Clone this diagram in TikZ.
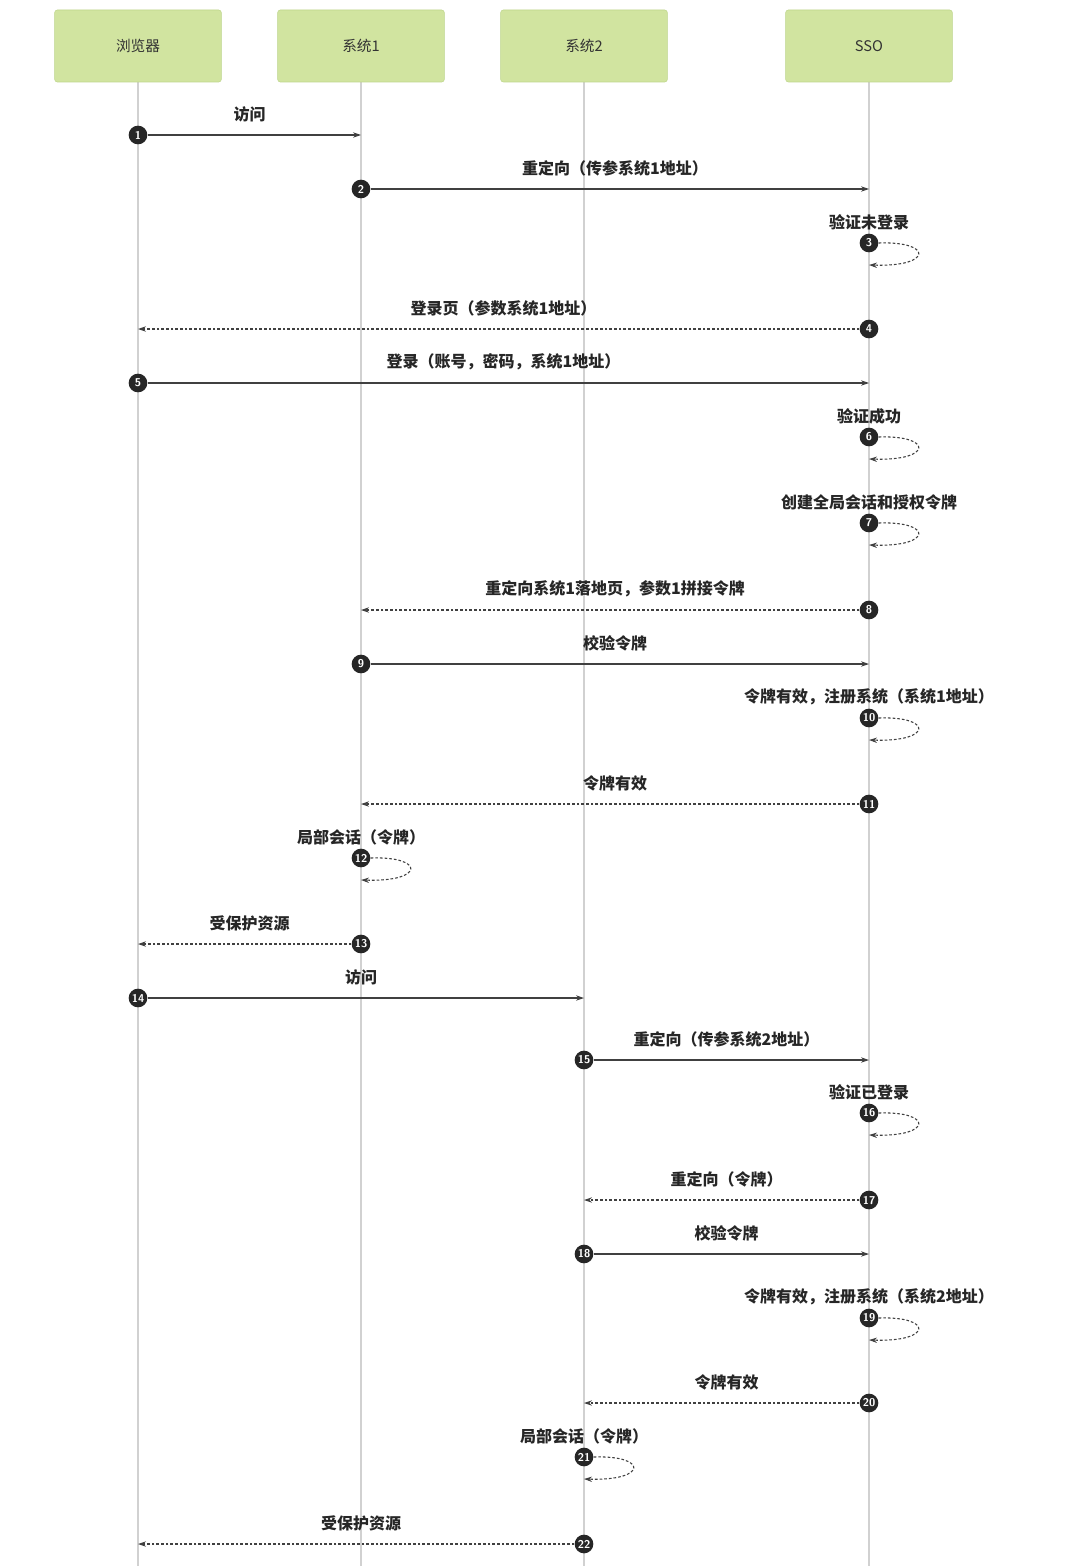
\documentclass[tikz,border=0pt]{standalone}
\usepackage{fontspec}
\setmainfont{Liberation Sans}
\newfontfamily\cjk{Noto Sans CJK SC}
\usetikzlibrary{arrows.meta}
\definecolor{boxfill}{RGB}{209,228,160}
\definecolor{boxline}{RGB}{190,214,140}
\begin{document}
\begin{tikzpicture}[x=0.75pt,y=-0.75pt,
  actor/.style={draw=boxline,fill=boxfill,rounded corners=2pt,minimum width=125pt,minimum height=54pt,font=\cjk\fontsize{11}{13}\selectfont,text=black!80},
  life/.style={draw=black!18,line width=0.8pt},
  num/.style={circle,fill=black!85,text=white,inner sep=0pt,minimum size=14pt,font=\sffamily\bfseries\fontsize{8.5}{8.5}\selectfont},
  msg/.style={draw=black!75,line width=0.8pt,-{Stealth[length=6pt,width=4pt]}},
  ret/.style={msg,dashed,dash pattern=on 2pt off 1.5pt},
  lbl/.style={font=\cjk\bfseries\fontsize{12}{14}\selectfont,text=black!85}]
\useasboundingbox (0,0) rectangle (1064,1566);
\fill[white] (0,0) rectangle (1064,1566);
\foreach \n/\x/\t in {a/138/浏览器,b/361/系统1,c/584/系统2,d/869/SSO}{
  \draw[life] (\x,82) -- (\x,1566);
  \node[actor] (\n) at (\x,46) {\t};
}
\foreach \i/\y/\f/\t/\s/\l in {
 1/135/138/361/msg/访问,
 2/189/361/869/msg/重定向（传参系统1地址）,
 4/329/869/138/ret/登录页（参数系统1地址）,
 5/383/138/869/msg/登录（账号，密码，系统1地址）,
 8/610/869/361/ret/重定向系统1落地页，参数1拼接令牌,
 9/664/361/869/msg/校验令牌,
 11/804/869/361/ret/令牌有效,
 13/944/361/138/ret/受保护资源,
 14/998/138/584/msg/访问,
 15/1060/584/869/msg/重定向（传参系统2地址）,
 17/1200/869/584/ret/重定向（令牌）,
 18/1254/584/869/msg/校验令牌,
 20/1403/869/584/ret/令牌有效,
 22/1544/584/138/ret/受保护资源}{
  \coordinate (e\i) at (\t,\y);
  \node[num] (n\i) at (\f,\y) {\i};
  \draw[\s] (n\i) -- (e\i);
  \node[lbl] at ({(\f+\t)/2},{\y-21}) {\l};
}
\foreach \i/\y/\x/\l in {
 3/243/869/验证未登录,
 6/437/869/验证成功,
 7/523/869/创建全局会话和授权令牌,
 10/718/869/令牌有效，注册系统（系统1地址）,
 12/858/361/局部会话（令牌）,
 16/1113/869/验证已登录,
 19/1318/869/令牌有效，注册系统（系统2地址）,
 21/1457/584/局部会话（令牌）}{
  \node[num] (n\i) at (\x,\y) {\i};
  \coordinate (e\i) at (\x,{\y+22});
  \draw[ret] (n\i.east) .. controls ({\x+64},{\y-2}) and ({\x+64},{\y+24}) .. (e\i);
  \node[lbl] at (\x,{\y-21}) {\l};
}
\end{tikzpicture}
\end{document}
